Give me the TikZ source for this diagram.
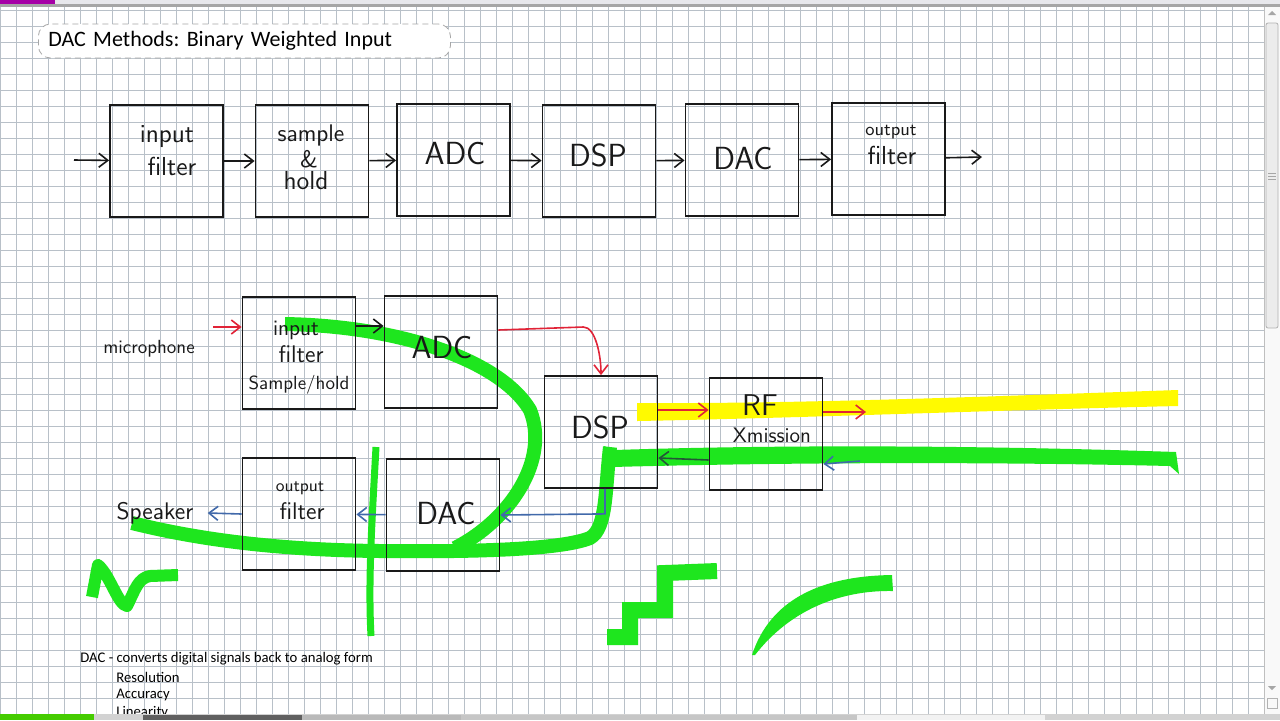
\documentclass[tikz,border=0pt]{standalone}
\usepackage{fontspec}
\newfontfamily\uifont{Carlito}
\usetikzlibrary{arrows.meta, positioning, calc}
\definecolor{ink}{RGB}{25,25,25}
\definecolor{inkred}{RGB}{225,35,55}
\definecolor{inkblue}{RGB}{65,105,170}
\definecolor{inkdark}{RGB}{35,85,55}
\definecolor{hlgreen}{RGB}{30,230,30}
\definecolor{hlyellow}{RGB}{255,250,0}
\definecolor{gridline}{RGB}{184,192,200}
\definecolor{chrome}{RGB}{232,232,236}
\newcommand{\inksize}[1]{\fontsize{#1pt}{#1pt}\selectfont}
\frenchspacing

\begin{document}
\begin{tikzpicture}[
    x=0.5pt, y=-0.5pt,
    blk/.style={draw=ink, line width=0.9pt, minimum width=56.5pt, minimum height=56pt, inner sep=0pt},
    hand/.style={font=\sffamily, text=ink, inner sep=0pt},
    arrow/.style={draw=ink, line width=0.8pt, -{Straight Barb[length=4.5pt, width=7pt]}},
    redarrow/.style={arrow, draw=inkred},
    bluearrow/.style={arrow, draw=inkblue},
    hlg/.style={draw=hlgreen, line width=7pt, line join=round},
    uitext/.style={font=\uifont\fontsize{7.35pt}{9pt}\selectfont, anchor=west, inner sep=0pt}
]
\useasboundingbox (0,0) rectangle (1280,720);
\fill[white] (0,0) rectangle (1280,720);

% Grid paper
\foreach \gx in {0,16,...,1263} {
    \draw[gridline, line width=0.5pt] (\gx,7) -- (\gx,714);
}
\foreach \gy in {10.7,26.7,...,714} {
    \draw[gridline, line width=0.5pt] (0,\gy) -- (1264,\gy);
}

% Window chrome top
\fill[chrome] (0,0) rectangle (1280,4);
\fill[violet!70!magenta] (0,0) rectangle (55,5);
\fill[gray!70] (0,4) rectangle (1280,6.5);

% Title
\node[draw=gray!70, densely dashed, line width=0.4pt, fill=white, rounded corners=6pt,
      anchor=west, minimum height=17pt, text width=196pt, inner xsep=5pt, align=left,
      font=\uifont\fontsize{11pt}{12pt}\selectfont] (title) at (38,41) {DAC Methods: Binary Weighted Input};

% Highlighter strokes
\fill[hlyellow] (637,403) .. controls (800,404) and (1000,396) .. (1178,390) -- (1178,406)
    .. controls (1000,410) and (800,418) .. (637,421) -- cycle;
\draw[hlg] (285,324) .. controls (400,326) and (500,360) .. (530,410)
    .. controls (550,460) and (510,520) .. (455,548);
\draw[hlg] (132,523) .. controls (200,540) and (280,550) .. (380,551)
    .. controls (470,552) and (560,550) .. (590,538)
    .. controls (607,528) and (605,490) .. (610,447);
\fill[hlgreen] (604,446) -- (614,450) .. controls (800,444) and (1000,446) .. (1176,452)
    -- (1179,474) -- (1170,466) .. controls (1000,462) and (800,462) .. (612,467) -- cycle;
\draw[hlg, line width=3.5pt] (376,447) .. controls (372,520) and (368,580) .. (371,636);
\draw[hlg, line width=6pt] (92,597) -- (98,565) .. controls (110,575) and (118,605) .. (127,606)
    .. controls (135,590) and (138,578) .. (150,576) -- (178,575);
\draw[hlg, line width=8pt, line join=miter] (607,637) -- (630,637) -- (630,610) -- (665,610) -- (665,573) -- (717,571);
\fill[hlgreen] (752,655) .. controls (770,600) and (820,576) .. (892,575) -- (893,591)
    .. controls (840,590) and (790,610) .. (755,655) -- cycle;

% Top chain
\node[blk] (b1) at (166.5,161) {};
\node[blk] (b2) at (312,161) {};
\node[blk] (b3) at (453.5,160) {};
\node[blk] (b4) at (599,161) {};
\node[blk] (b5) at (742,160) {};
\node[blk] (b6) at (888.5,159) {};

\node[hand, font=\sffamily\inksize{13}] (l1a) at (167,137) {input};
\node[hand, font=\sffamily\inksize{13}] (l1b) at (172,166) {filter};
\node[hand, font=\sffamily\inksize{12}] (l2a) at (311,135) {sample};
\node[hand, font=\sffamily\inksize{12}] (l2b) at (309,159) {\&};
\node[hand, font=\sffamily\inksize{13}] (l2c) at (306,181) {hold};
\node[hand, font=\sffamily\inksize{16}] (l3) at (455,153) {ADC};
\node[hand, font=\sffamily\inksize{16}] (l4) at (598,155) {DSP};
\node[hand, font=\sffamily\inksize{16}] (l5) at (743,158) {DAC};
\node[hand, font=\sffamily\inksize{9}] (l6a) at (891,132) {output};
\node[hand, font=\sffamily\inksize{13}] (l6b) at (892,155) {filter};

\coordinate (in) at (74,160);
\coordinate (out) at (982,157);
\draw[arrow] (in) -- (b1);
\foreach \i/\j in {1/2,2/3,3/4,4/5,5/6} {
    \draw[arrow] (b\i) -- (b\j);
}
\draw[arrow] (b6) -- (out);

% Lower loop
\node[blk] (insf) at (299,353) {};
\node[blk] (adc2) at (441,352) {};
\node[blk] (dsp2) at (601,432) {};
\node[blk] (rf) at (766,434) {};
\node[blk] (outf2) at (299,514) {};
\node[blk] (dac2) at (443,515) {};

\node[hand, font=\sffamily\inksize{11}] (m1a) at (296,330) {input};
\node[hand, font=\sffamily\inksize{12}] (m1b) at (301,354) {filter};
\node[hand, font=\sffamily\inksize{9.5}] (m1c) at (299,385) {Sample/hold};
\node[hand, font=\sffamily\inksize{16}] (m2) at (442,347) {ADC};
\node[hand, font=\sffamily\inksize{16}] (m3) at (600,427) {DSP};
\node[hand, font=\sffamily\inksize{15}] (m4a) at (760,405) {RF};
\node[hand, font=\sffamily\inksize{10.5}] (m4b) at (772,435) {Xmission};
\node[hand, font=\sffamily\inksize{8.5}] (m5a) at (300,488) {output};
\node[hand, font=\sffamily\inksize{12}] (m5b) at (302,511) {filter};
\node[hand, font=\sffamily\inksize{16}] (m6) at (446,513) {DAC};
\node[hand, font=\sffamily\inksize{9.5}] (mic) at (149,349) {microphone};
\node[hand, font=\sffamily\inksize{12}] (spk) at (155,513) {Speaker};

\coordinate (micin) at (213,327);
\coordinate (tx) at (866,412);
\coordinate (rx) at (860,461);
\draw[redarrow] (micin) -- (insf.west |- micin);
\draw[arrow] ([yshift=13.5pt]insf.east) -- ([yshift=13pt]adc2.west);
\draw[redarrow] ([yshift=11pt]adc2.east) -- ++(85,-3) .. controls +(12,0) and +(0,-20) .. (dsp2.north);
\draw[redarrow] ([yshift=11pt]dsp2.east) -- ([yshift=12pt]rf.west);
\draw[redarrow] ([yshift=11pt]rf.east) -- (tx);
\draw[arrow, draw=inkdark] ([yshift=-13pt]rf.west) -- ([yshift=-13pt]dsp2.east);
\draw[bluearrow] (rx) -- ([yshift=-15pt]rf.east);
\draw[bluearrow] ([xshift=2pt]dsp2.south) -- ++(0,25) -- (dac2.east);
\draw[bluearrow] (dac2) -- (outf2);
\draw[bluearrow] (outf2.west) -- ([xshift=7pt]spk.east);

% Notes
\node[uitext] (n1) at (80,659) {DAC - converts digital signals back to analog form};
\node[uitext] (n2) at (116,677) {Resolution};
\node[uitext] (n3) at (116,695) {Accuracy};
\node[uitext] (n4) at (116,713) {Linearity};

% Window chrome bottom and scrollbar
\fill[gray!35] (0,714) rectangle (1280,720);
\fill[green!55!lime!80!black] (0,714) rectangle (94,720);
\fill[gray!75!black] (143,715) rectangle (302,720);
\fill[gray!55] (302,715) rectangle (461,720);
\fill[gray!45] (461,715) rectangle (857,720);
\fill[gray!10] (857,715) rectangle (1045,720);
\fill[gray!5] (1264,7) rectangle (1280,714);
\draw[gray!50, line width=0.5pt] (1264,7) -- (1264,714);
\draw[gray!60, fill=gray!15, rounded corners=1pt] (1266,23) rectangle (1278,328);
\foreach \gy in {173,176,179} {
    \draw[gray!70, line width=0.4pt] (1268,\gy) -- (1276,\gy);
}
\fill[gray!70] (1268,15) -- (1276,15) -- (1272,11) -- cycle;
\fill[gray!70] (1268,686) -- (1276,686) -- (1272,690) -- cycle;
\draw[gray!60, line width=0.4pt] (1267,698) rectangle (1277,708);
\end{tikzpicture}
\end{document}
